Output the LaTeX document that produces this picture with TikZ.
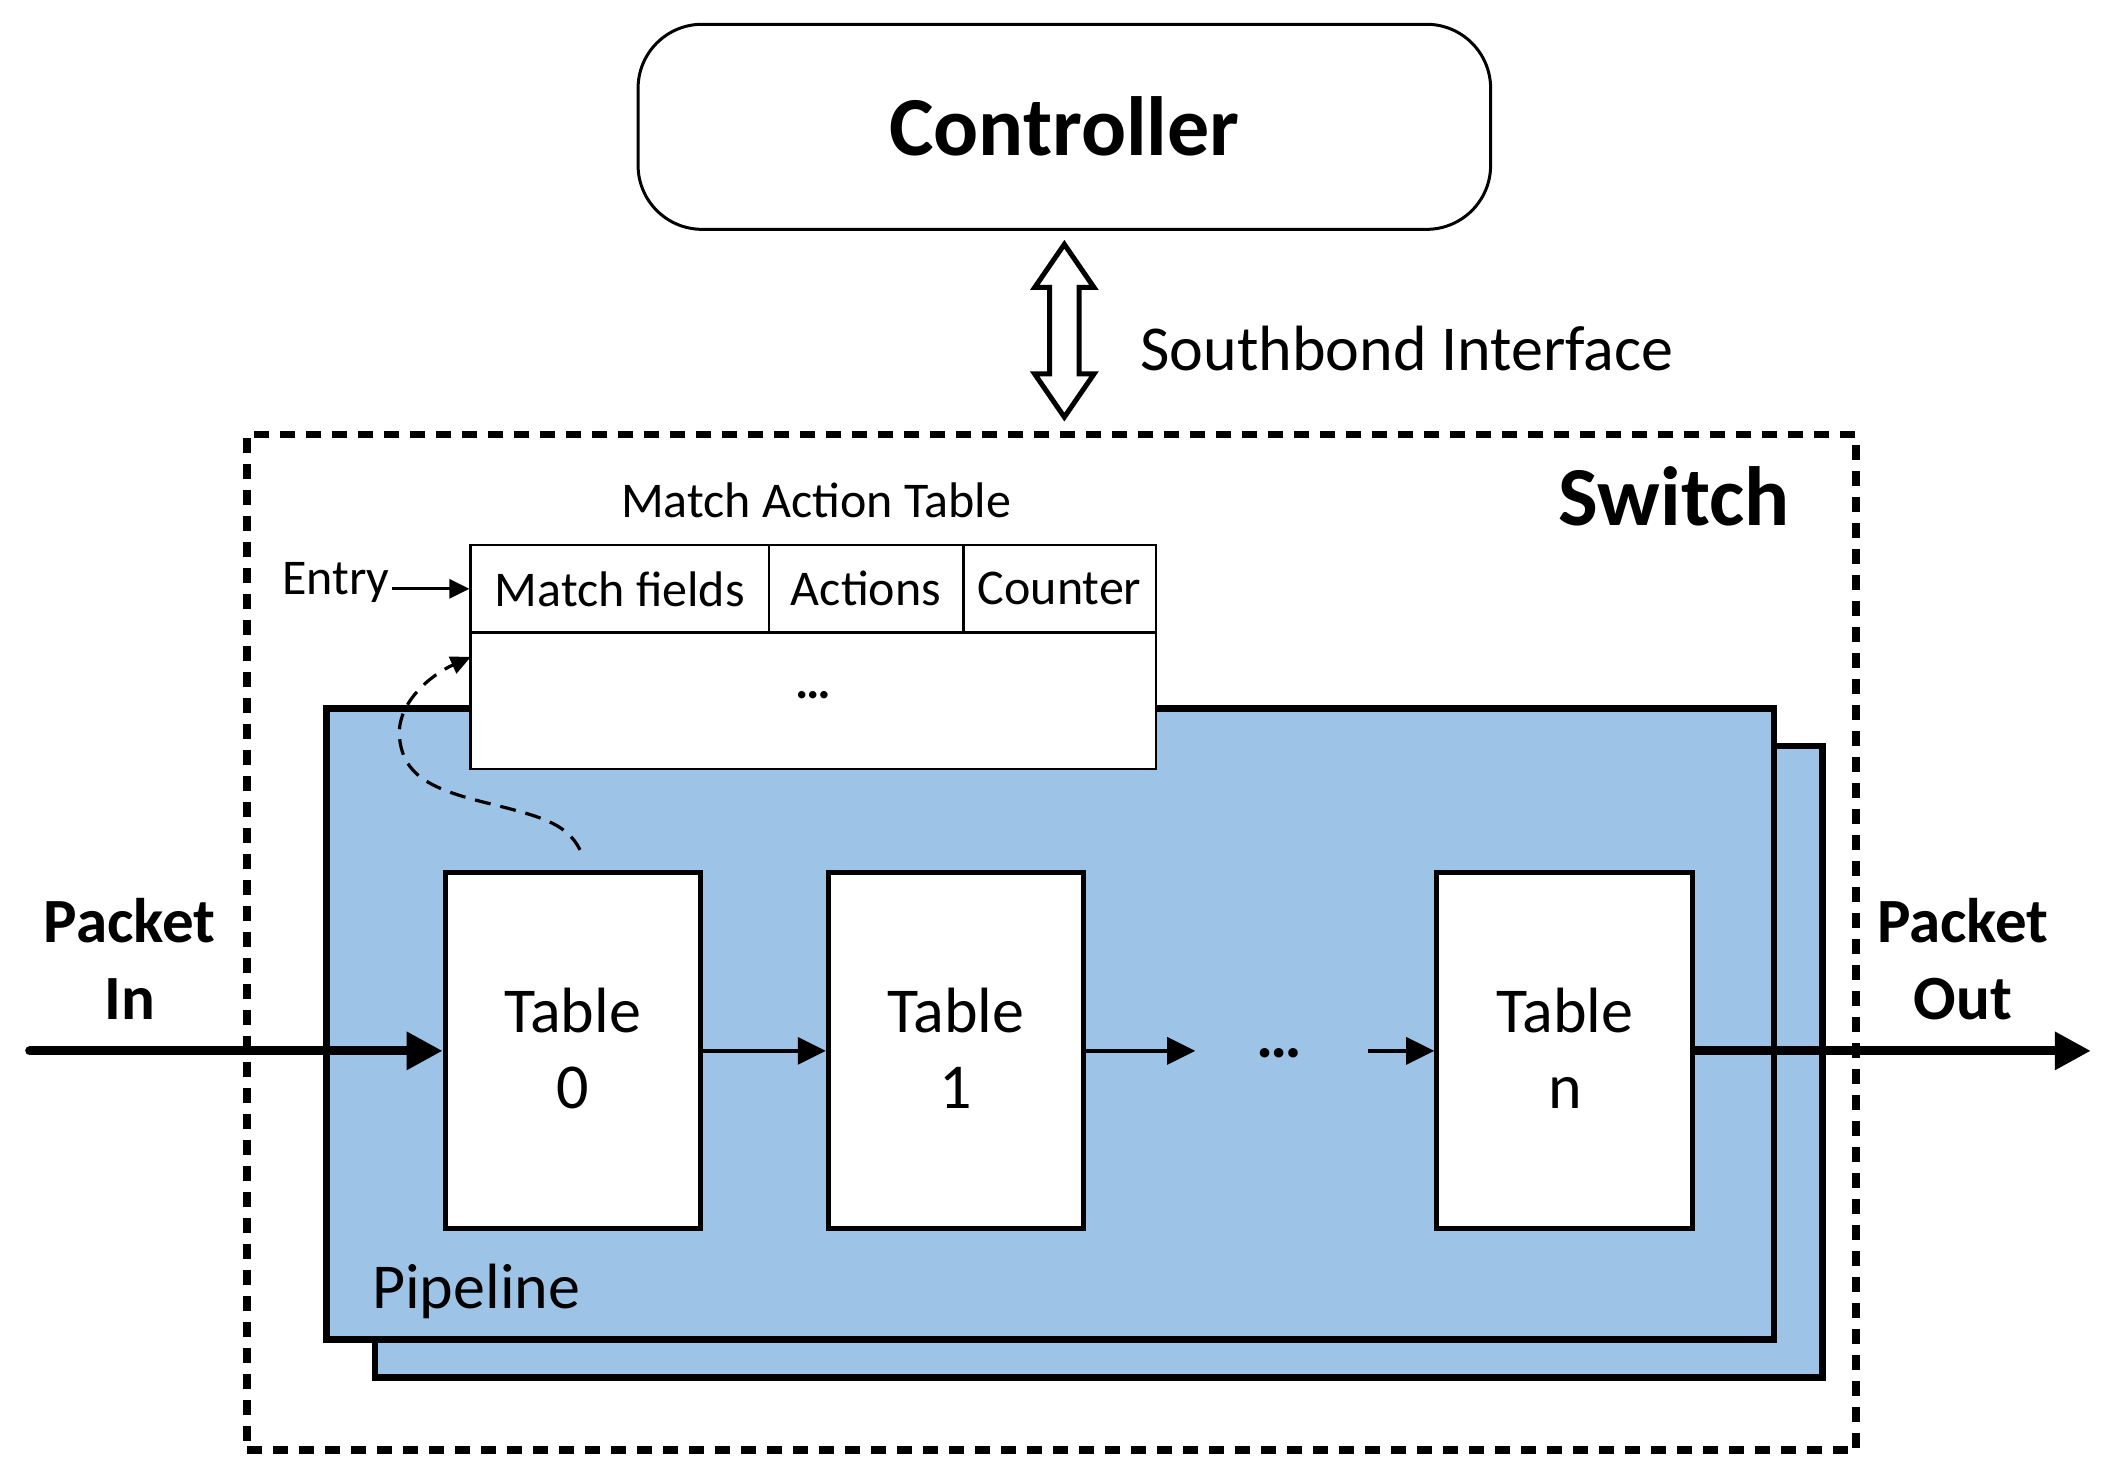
\documentclass[tikz,border=0pt]{standalone}
\usepackage{fontspec}
\setmainfont{Carlito}
\usetikzlibrary{fit,arrows.meta,calc}
\definecolor{pipeblue}{HTML}{9DC3E6}
\begin{document}
\begin{tikzpicture}[x=0.6745pt, y=-0.6745pt,
  fitbox/.style={draw, inner sep=0pt, fit={#1}},
  cell/.style={draw, fill=white, line width=1.4pt, inner sep=0pt},
  celltext/.style={inner sep=1pt, font=\fontsize{25}{30}\selectfont},
  tbl/.style={draw, fill=white, line width=2.5pt, inner sep=0pt},
  tbltext/.style={inner sep=1pt, align=center, font=\fontsize{32}{38}\selectfont},
  pipebox/.style={draw, fill=pipeblue, line width=3.4pt, inner sep=0pt},
  lbl/.style={inner sep=1pt},
  thinarrow/.style={line width=1.7pt, -{Triangle[length=14pt,width=13.5pt]}},
  thickarrow/.style={line width=4.5pt, line cap=round, -{Triangle[length=18pt,width=18pt]}},
  bigbold/.style={font=\bfseries\fontsize{42}{50}\selectfont},
  pkt/.style={lbl, align=center, font=\bfseries\fontsize{31.5}{38.5}\selectfont}
]
\useasboundingbox (0,0) rectangle (1559.7,1094.2);

% switch
\node[fitbox={(183,322) (1376,1075)}, line width=3.8pt, dash pattern=on 7.5pt off 5.5pt] (switch) {};
\node[lbl, bigbold] (swlabel) at (1241,368) {Switch};

% controller
\node[fitbox={(473,18) (1105,170)}, line width=1.5pt, rounded corners=32pt] (ctrl) {};
\node[lbl, bigbold] (ctrltext) at (ctrl.center) {Controller};

% southbound double arrow
\coordinate (sbtop) at ($(ctrl.south)+(0,10)$);
\coordinate (sbbot) at ($(ctrl.south |- switch.north)+(0,-10)$);
\draw[line width=2.5pt, fill=white, line join=miter]
  (sbtop) -- ($(sbtop)+(22,32)$) -- ($(sbtop)+(11,32)$) -- ($(sbbot)+(11,-32)$) -- ($(sbbot)+(22,-32)$)
  -- (sbbot) -- ($(sbbot)+(-22,-32)$) -- ($(sbbot)+(-11,-32)$) -- ($(sbtop)+(-11,32)$) -- ($(sbtop)+(-22,32)$) -- cycle;
\node[lbl, font=\fontsize{32}{38}\selectfont] (sblabel) at (1043,258) {Southbond Interface};

% pipeline
\node[pipebox, fit={(278,553) (1351,1021)}] (pipeback) {};
\node[pipebox, fit={(242,525) (1315,993)}] (pipe) {};
\node[lbl, font=\fontsize{32}{38}\selectfont] (pipelabel) at (353,957) {Pipeline};

% match action table
\node[lbl, font=\fontsize{25}{30}\selectfont] (matlabel) at (605,371) {Match Action Table};
\node[cell, fit={(349,469) (857,570)}] (body) {};
\node[cell, fit={(349,404) (570,469)}] (mf) {};
\node[cell, fit={(570,404) (714,469)}] (act) {};
\node[cell, fit={(714,404) (857,469)}] (cnt) {};
\node[celltext] (mftext) at (mf.center) {Match fields};
\node[celltext] (acttext) at (act.center) {Actions};
\node[celltext] (cnttext) at (cnt.center) {Counter};
\node[celltext, font=\bfseries\fontsize{25}{30}\selectfont] (bodytext) at ($(body.center)+(0,-4)$) {…};
\node[lbl, font=\fontsize{25}{30}\selectfont] (entry) at (249,432) {Entry};
\draw[line width=1.4pt, -{Triangle[length=10pt,width=9.5pt]}] (entry.east |- mf.west) -- (mf.west);

% tables
\node[tbl, fit={(330,647) (519,911)}] (t0) {};
\node[tbl, fit={(614,647) (803,911)}] (t1) {};
\node[tbl, fit={(1065,647) (1255,911)}] (tn) {};
\node[tbltext] (t0text) at ($(t0.center)+(0,-2)$) {Table\\0};
\node[tbltext] (t1text) at ($(t1.center)+(0,-2)$) {Table\\1};
\node[tbltext] (tntext) at ($(tn.center)+(0,-2)$) {Table\\n};
\node[lbl, anchor=base, font=\bfseries\fontsize{32}{38}\selectfont] (dots) at (948,784) {…};

% dashed lookup arrow
\coordinate (cs) at (430,630);
\coordinate (ce) at (349,487);
\draw[line width=1.6pt, dash pattern=on 8pt off 5pt, -{Triangle[length=10pt,width=9pt]}]
  (cs) .. controls (420,610) and (400,605) .. (360,595)
       .. controls (320,585) and (298,575) .. (296,545)
       .. controls (295,520) and (320,500) .. (ce);

% flow arrows
\coordinate (d1) at (886,779);
\coordinate (d2) at (1014,779);
\draw[thinarrow] (t0.east) -- (t1.west);
\draw[thinarrow] (t1.east) -- (d1);
\draw[thinarrow] (d2) -- (tn.west);

\coordinate (pin) at (22,779);
\coordinate (pout) at (1550,779);
\draw[thickarrow] (pin) -- (t0.west);
\draw[thickarrow] (tn.east) -- (pout);

\node[pkt] (pinlabel) at (96,711) {Packet\\In};
\node[pkt] (poutlabel) at (1455,711) {Packet\\Out};
\end{tikzpicture}
\end{document}
